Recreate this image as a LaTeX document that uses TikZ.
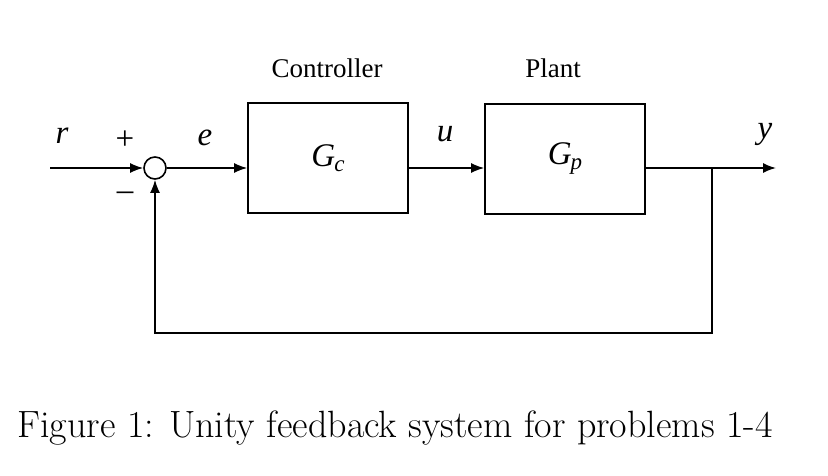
\documentclass[tikz,border=0pt]{standalone}
\usepackage{fontspec}
\newfontfamily\tms{Liberation Serif}
\usetikzlibrary{arrows.meta}
\begin{document}
\begin{tikzpicture}[x=1pt,y=-1pt,
  blk/.style={draw,line width=1.6pt,minimum width=160pt,minimum height=110pt,inner sep=0pt},
  lab/.style={font=\tms\fontsize{27}{30}\selectfont},
  pm/.style={font=\tms\fontsize{33}{36}\selectfont},
  ilab/.style={font=\tms\itshape\fontsize{33}{36}\selectfont},
  sig/.style={line width=1.6pt,-{Latex[length=13pt,width=10pt]}},
  ln/.style={line width=1.6pt}]
\useasboundingbox (0,0) rectangle (828,476);
\node[draw,circle,line width=1.6pt,minimum size=22pt,inner sep=0pt] (s) at (155,168) {};
\node[blk] (gc) at (328,158) {};
\node[blk] (gp) at (565,159) {};
\node[ilab] at (gc) {G\kern-1pt\raisebox{-5pt}{\fontsize{23}{25}\selectfont c}};
\node[ilab] at (gp) {G\kern-1pt\raisebox{-5pt}{\fontsize{23}{25}\selectfont p}};
\node[lab] (cl) at (327,68) {Controller};
\node[lab] (pl) at (553,68) {Plant};
\coordinate (in) at (50,168);
\coordinate (br) at (712,168);
\coordinate (out) at (776,168);
\coordinate (b1) at (712,333);
\coordinate (b2) at (155,333);
\draw[sig] (in) -- (s.west);
\draw[sig] (s.east) -- (s.east -| gc.west);
\draw[sig] (gc.east |- s) -- (gp.west |- s);
\draw[ln] (gp.east |- s) -- (br);
\draw[sig] (br) -- (out);
\draw[sig] (br) -- (b1) -- (b2) -- (s.south);
\node[ilab] (r) at (62,136) {r};
\node[pm] (p) at (125,140) {+};
\node[pm] (m) at (125,196) {\textendash};
\node[ilab] (e) at (205,138) {e};
\node[ilab] (u) at (445,134) {u};
\node[ilab] (y) at (765,134) {y};
\node[font=\fontsize{38}{42}\selectfont] (cap) at (395,428) {Figure 1: Unity feedback system for problems 1-4};
\end{tikzpicture}
\end{document}
